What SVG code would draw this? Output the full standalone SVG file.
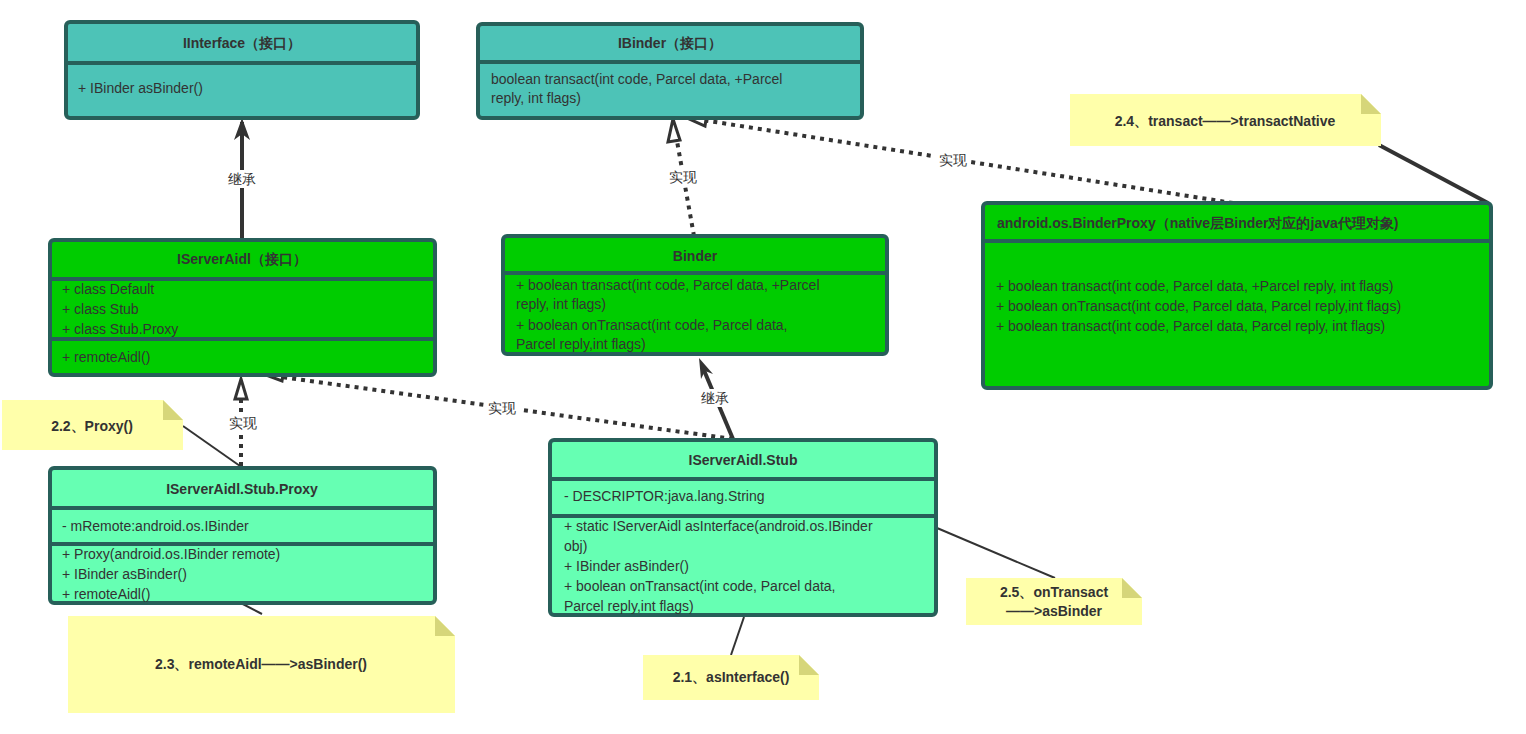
<svg xmlns="http://www.w3.org/2000/svg" width="1526" height="734" viewBox="0 0 1526 734">
<style>
text{font-family:"Liberation Sans",Arial,sans-serif;font-size:14px;fill:#333}
.t{font-weight:bold;text-anchor:middle}
.box{stroke:#275F59;stroke-width:4}
.div{stroke:#275F59;stroke-width:4}
.teal{fill:#4DC3B7}.green{fill:#00CC00}.mint{fill:#66FFB3}
.note{fill:#FFFFAA}.fold{fill:#D6D67A}
.nt{font-weight:bold;text-anchor:middle;font-size:14px}
.dot{stroke:#333;stroke-width:4;stroke-dasharray:4 5;fill:none}
.sol{stroke:#333;stroke-width:4;fill:none}
.nl{stroke:#333;stroke-width:2;fill:none}
.lbl{text-anchor:middle;font-size:14px}
</style>
<defs>
<marker id="open" viewBox="0 0 20 20" refX="18" refY="10" markerWidth="6" markerHeight="6" markerUnits="userSpaceOnUse" orient="auto" style="overflow:visible"><path d="M2 3 L18 10 L2 17 Z" fill="#fff" stroke="#333" stroke-width="3" transform="scale(0.8) translate(4,2.5)"/></marker>
<marker id="fill" viewBox="0 0 20 20" refX="18" refY="10" markerWidth="6" markerHeight="6" markerUnits="userSpaceOnUse" orient="auto"><path d="M0 2 L20 10 L0 18 L5 10 Z" fill="#333"/></marker>
</defs>
<rect width="1526" height="734" fill="#fff"/>
<g id="connectors">
<line class="sol" x1="242" y1="240" x2="242" y2="122"/><path d="M242 118 L250 140 L242 134 L234 140 Z" fill="#333"/>
<rect x="224" y="170" width="36" height="18" fill="#fff"/><text class="lbl" x="242" y="184">继承</text>
<line class="dot" x1="694" y1="236" x2="675" y2="130"/><path d="M673 119 L680 140 L668 142 Z" fill="#fff" stroke="#333" stroke-width="3"/>
<rect x="665" y="168" width="36" height="18" fill="#fff"/><text class="lbl" x="683" y="182">实现</text>
<line class="dot" x1="1233" y1="203" x2="696" y2="119"/><path d="M685 117 L707 113 L705 126 Z" fill="#fff" stroke="#333" stroke-width="3"/>
<rect x="935" y="151" width="36" height="18" fill="#fff"/><text class="lbl" x="953" y="165">实现</text>
<line class="dot" x1="241" y1="466" x2="241" y2="390"/><path d="M241 379 L247 399 L235 399 Z" fill="#fff" stroke="#333" stroke-width="3"/>
<rect x="225" y="414" width="36" height="18" fill="#fff"/><text class="lbl" x="243" y="428">实现</text>
<line class="dot" x1="733" y1="439" x2="274" y2="376"/><path d="M263 374 L284 368 L282 381 Z" fill="#fff" stroke="#333" stroke-width="3"/>
<rect x="484" y="399" width="36" height="18" fill="#fff"/><text class="lbl" x="502" y="413">实现</text>
<line class="sol" x1="733" y1="439" x2="703" y2="368"/><path d="M699 358 L713 374 L705 371 L701 379 Z" fill="#333"/>
<rect x="697" y="389" width="36" height="18" fill="#fff"/><text class="lbl" x="715" y="403">继承</text>
<line class="nl" x1="183" y1="426" x2="240" y2="466"/>
<line class="nl" x1="235" y1="600" x2="262" y2="614"/>
<line class="nl" x1="744" y1="617" x2="731" y2="655"/>
<line class="nl" x1="937" y1="528" x2="1055" y2="578"/>
<line class="sol" x1="1379" y1="145" x2="1488" y2="203"/>
</g>
<g id="IInterface">
<rect class="box teal" x="66" y="22" width="352" height="96" rx="4"/>
<line class="div" x1="66" y1="63" x2="418" y2="63"/>
<text class="t" x="242" y="48">IInterface（接口）</text>
<text x="78" y="93">+ IBinder asBinder()</text>
</g>
<g id="IBinder">
<rect class="box teal" x="478" y="24" width="384" height="94" rx="4"/>
<line class="div" x1="478" y1="62" x2="862" y2="62"/>
<text class="t" x="670" y="48">IBinder（接口）</text>
<text x="491" y="84">boolean transact(int code, Parcel data, +Parcel</text>
<text x="491" y="103">reply, int flags)</text>
</g>
<g id="BinderProxy">
<rect class="box green" x="983" y="203" width="508" height="185" rx="4"/>
<line class="div" x1="983" y1="241" x2="1491" y2="241"/>
<text x="997" y="228" style="font-weight:bold">android.os.BinderProxy（native层Binder对应的java代理对象)</text>
<text x="996" y="291">+ boolean transact(int code, Parcel data, +Parcel reply, int flags)</text>
<text x="996" y="311">+ boolean onTransact(int code, Parcel data, Parcel reply,int flags)</text>
<text x="996" y="331">+ boolean transact(int code, Parcel data, Parcel reply, int flags)</text>
</g>
<g id="IServerAidl">
<rect class="box green" x="50" y="240" width="385" height="135" rx="4"/>
<line class="div" x1="50" y1="279" x2="435" y2="279"/>
<line class="div" x1="50" y1="339" x2="435" y2="339"/>
<text class="t" x="242" y="264">IServerAidl（接口）</text>
<text x="62" y="294">+ class Default</text>
<text x="62" y="314">+ class Stub</text>
<text x="62" y="334">+ class Stub.Proxy</text>
<text x="62" y="362">+ remoteAidl()</text>
</g>
<g id="Binder">
<rect class="box green" x="503" y="236" width="384" height="118" rx="4"/>
<line class="div" x1="503" y1="273" x2="887" y2="273"/>
<text class="t" x="695" y="261">Binder</text>
<text x="516" y="290">+ boolean transact(int code, Parcel data, +Parcel</text>
<text x="516" y="309">reply, int flags)</text>
<text x="516" y="330">+ boolean onTransact(int code, Parcel data,</text>
<text x="516" y="349">Parcel reply,int flags)</text>
</g>
<g id="Proxy">
<rect class="box mint" x="50" y="468" width="385" height="135" rx="4"/>
<line class="div" x1="50" y1="508" x2="435" y2="508"/>
<line class="div" x1="50" y1="544" x2="435" y2="544"/>
<text class="t" x="242" y="494">IServerAidl.Stub.Proxy</text>
<text x="62" y="531">-  mRemote:android.os.IBinder</text>
<text x="62" y="559">+ Proxy(android.os.IBinder remote)</text>
<text x="62" y="579">+ IBinder asBinder()</text>
<text x="62" y="599">+  remoteAidl()</text>
</g>
<g id="Stub">
<rect class="box mint" x="550" y="440" width="386" height="175" rx="4"/>
<line class="div" x1="550" y1="479" x2="936" y2="479"/>
<line class="div" x1="550" y1="516" x2="936" y2="516"/>
<text class="t" x="743" y="465">IServerAidl.Stub</text>
<text x="564" y="501">-  DESCRIPTOR:java.lang.String</text>
<text x="564" y="531">+ static IServerAidl asInterface(android.os.IBinder</text>
<text x="564" y="551">obj)</text>
<text x="564" y="571">+ IBinder asBinder()</text>
<text x="564" y="591">+ boolean onTransact(int code, Parcel data,</text>
<text x="564" y="611">Parcel reply,int flags)</text>
</g>
<g id="note22">
<path class="note" d="M2 400 H163 L183 420 V450 H2 Z"/><path class="fold" d="M163 400 V420 H183 Z"/>
<text class="nt" x="92" y="431">2.2、Proxy()</text>
</g>
<g id="note23">
<path class="note" d="M68 616 H435 L455 636 V713 H68 Z"/><path class="fold" d="M435 616 V636 H455 Z"/>
<text class="nt" x="261" y="669">2.3、remoteAidl——&gt;asBinder()</text>
</g>
<g id="note21">
<path class="note" d="M643 655 H799 L819 675 V700 H643 Z"/><path class="fold" d="M799 655 V675 H819 Z"/>
<text class="nt" x="731" y="682">2.1、asInterface()</text>
</g>
<g id="note25">
<path class="note" d="M966 578 H1122 L1142 598 V625 H966 Z"/><path class="fold" d="M1122 578 V598 H1142 Z"/>
<text class="nt" x="1054" y="597">2.5、onTransact</text>
<text class="nt" x="1054" y="616">——&gt;asBinder</text>
</g>
<g id="note24">
<path class="note" d="M1070 94 H1361 L1381 114 V146 H1070 Z"/><path class="fold" d="M1361 94 V114 H1381 Z"/>
<text class="nt" x="1225" y="126">2.4、transact——&gt;transactNative</text>
</g>
</svg>
